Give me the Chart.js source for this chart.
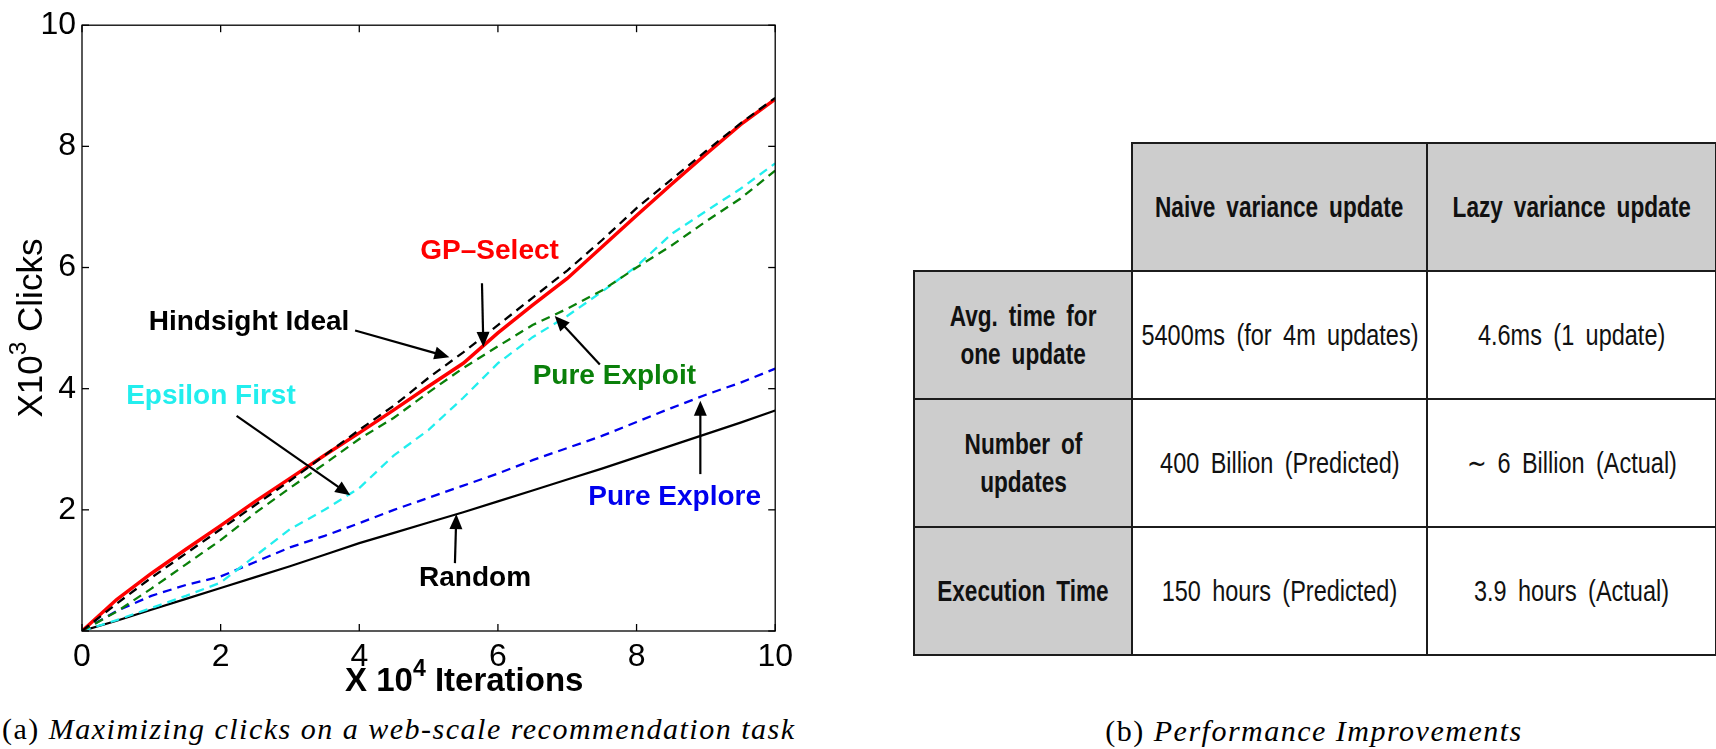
<!DOCTYPE html>
<html>
<head>
<meta charset="utf-8">
<script src="https://cdn.jsdelivr.net/npm/chart.js@4.4.1/dist/chart.umd.min.js"></script>
<style>
  html, body { margin: 0; padding: 0; background: #fff; }
  body { width: 1716px; height: 749px; position: relative; overflow: hidden; }
  #chart-box { position: absolute; left: 0; top: 0; width: 800px; height: 700px; }
  #perf {
    position: absolute; left: 913px; top: 142px; width: 802px;
    border-collapse: collapse; table-layout: fixed;
    font-family: "Liberation Sans", Arial, sans-serif;
    font-size: 29px; word-spacing: 6px; color: #111;
  }
  #perf td, #perf th {
    border: 2px solid #1c1c1c; text-align: center; vertical-align: middle; padding: 0;
    overflow: visible;
  }
  #perf th { background: #cdcdcd; font-weight: bold; }
  #perf td.corner { border: none; background: #fff; }
  #perf .c { width: 100%; min-width: 0; height: 126px; display: flex; justify-content: center; align-items: center; }
  #perf .sq { flex: none; white-space: nowrap; line-height: 38px; transform: scaleX(0.81); }
  #perf th .sq { transform: scaleX(0.78); }
  .cap {
    position: absolute; font-family: "Liberation Serif", serif; font-size: 30px;
    letter-spacing: 1.5px; line-height: 36px; color: #000; white-space: nowrap;
  }
</style>
</head>
<body>
<div id="chart-box"><canvas id="chart" width="800" height="700"></canvas></div>
<table id="perf">
  <colgroup><col style="width:218px"><col style="width:295px"><col style="width:289px"></colgroup>
  <tbody id="perf-body"></tbody>
</table>
<div class="cap" style="left:2px; top:711px;">(a) <i>Maximizing clicks on a web-scale recommendation task</i></div>
<div class="cap" style="left:914px; width:800px; text-align:center; top:713px;">(b) <i>Performance Improvements</i></div>
<script>
// iterations in units of 10^4, clicks in units of 10^3
const iterations = [0, 0.5, 1, 1.5, 2, 2.5, 3, 3.5, 4, 4.5, 5, 5.5, 6, 6.5, 7, 7.5, 8, 8.5, 9, 9.5, 10];
const gpSelect     = [0, 0.52, 0.95, 1.35, 1.74, 2.14, 2.52, 2.9, 3.27, 3.65, 4.04, 4.42, 4.92, 5.38, 5.82, 6.34, 6.86, 7.37, 7.87, 8.36, 8.78];
const hindsight    = [0, 0.45, 0.88, 1.28, 1.68, 2.08, 2.48, 2.9, 3.32, 3.72, 4.18, 4.6, 5.05, 5.5, 5.95, 6.45, 6.98, 7.45, 7.92, 8.38, 8.8];
const pureExploit  = [0, 0.32, 0.7, 1.1, 1.5, 1.95, 2.36, 2.76, 3.17, 3.52, 3.94, 4.34, 4.7, 5.05, 5.32, 5.62, 6.0, 6.36, 6.76, 7.14, 7.6];
const epsilonFirst = [0, 0.18, 0.38, 0.58, 0.8, 1.24, 1.68, 2.0, 2.36, 2.9, 3.32, 3.85, 4.42, 4.85, 5.2, 5.6, 6.02, 6.55, 6.93, 7.3, 7.72];
const pureExplore  = [0, 0.33, 0.58, 0.76, 0.9, 1.14, 1.38, 1.57, 1.78, 2.0, 2.2, 2.4, 2.6, 2.82, 3.02, 3.22, 3.45, 3.68, 3.9, 4.1, 4.33];
const randomPick   = [0, 0.17, 0.35, 0.53, 0.71, 0.89, 1.07, 1.26, 1.45, 1.62, 1.79, 1.96, 2.14, 2.32, 2.5, 2.68, 2.87, 3.06, 3.25, 3.44, 3.64];
const xTicks = [0, 2, 4, 6, 8, 10];
const yTicks = [0, 2, 4, 6, 8, 10];

// text labels with arrows, in data coordinates
const notes = [
  { text: 'Hindsight Ideal', color: '#000', at: [2.41, 5.10], from: [3.94, 4.96], to: [5.30, 4.52] },
  { text: 'GP\u2013Select', color: '#ff0000', at: [5.88, 6.26], from: [5.77, 5.74], to: [5.79, 4.69] },
  { text: 'Pure Exploit', color: '#0a800a', at: [7.68, 4.20], from: [7.47, 4.40], to: [6.82, 5.20] },
  { text: 'Epsilon First', color: '#22eeee', at: [1.86, 3.87], from: [2.23, 3.55], to: [3.87, 2.24] },
  { text: 'Pure Explore', color: '#0000ee', at: [8.55, 2.21], from: [8.92, 2.59], to: [8.92, 3.80] },
  { text: 'Random', color: '#000', at: [5.67, 0.87], from: [5.38, 1.12], to: [5.40, 1.93] }
];

// table content
const tableCols = ['Naive variance update', 'Lazy variance update'];
const tableRows = ['Avg. time for<br>one update', 'Number of<br>updates', 'Execution Time'];
const naiveCells = ['5400ms (for 4m updates)', '400 Billion (Predicted)', '150 hours (Predicted)'];
const lazyCells = ['4.6ms (1 update)', '\u223C 6 Billion (Actual)', '3.9 hours (Actual)'];

const cell = (tag, txt) => '<' + tag + '><div class="c"><span class="sq">' + txt + '</span></div></' + tag + '>';
let html = '<tr><td class="corner"></td>' + tableCols.map(c => cell('th', c)).join('') + '</tr>';
tableRows.forEach((r, i) => {
  html += '<tr>' + cell('th', r) + cell('td', naiveCells[i]) + cell('td', lazyCells[i]) + '</tr>';
});
document.getElementById('perf-body').innerHTML = html;

const pts = (ys) => ys.map((v, i) => ({ x: iterations[i], y: v }));

const line = (ctx, x1, y1, x2, y2) => {
  ctx.beginPath(); ctx.moveTo(x1, y1); ctx.lineTo(x2, y2); ctx.stroke();
};

// text with a superscript part
const fontOf = (p, size, weight) => weight + ' ' + (p.sup ? size * 0.7 : size) + 'px "Liberation Sans", Arial, sans-serif';
const partsWidth = (ctx, parts, size, weight) => {
  let w = 0;
  parts.forEach(p => { ctx.font = fontOf(p, size, weight); w += ctx.measureText(p.t).width; });
  return w;
};
const drawParts = (ctx, parts, size, weight, x0, y0) => {
  let x = x0;
  parts.forEach(p => {
    ctx.font = fontOf(p, size, weight);
    ctx.fillText(p.t, x, p.sup ? y0 - size * 0.45 : y0);
    x += ctx.measureText(p.t).width;
  });
};

const decorations = {
  id: 'decorations',
  afterDatasetsDraw(chart) {
    const { ctx, chartArea: a, scales: { x, y } } = chart;
    ctx.save();
    ctx.strokeStyle = '#000';
    ctx.lineWidth = 1.3;
    ctx.strokeRect(a.left, a.top, a.right - a.left, a.bottom - a.top);
    xTicks.forEach(v => {
      const px = x.getPixelForValue(v);
      line(ctx, px, a.bottom, px, a.bottom - 7);
      line(ctx, px, a.top, px, a.top + 7);
    });
    yTicks.forEach(v => {
      const py = y.getPixelForValue(v);
      line(ctx, a.left, py, a.left + 7, py);
      line(ctx, a.right, py, a.right - 7, py);
    });

    // annotations
    notes.forEach(n => {
      ctx.fillStyle = n.color;
      ctx.font = 'bold 28px "Liberation Sans", Arial, sans-serif';
      ctx.textAlign = 'center';
      ctx.textBaseline = 'middle';
      ctx.fillText(n.text, x.getPixelForValue(n.at[0]), y.getPixelForValue(n.at[1]));

      const x1 = x.getPixelForValue(n.from[0]), y1 = y.getPixelForValue(n.from[1]);
      const x2 = x.getPixelForValue(n.to[0]), y2 = y.getPixelForValue(n.to[1]);
      const ang = Math.atan2(y2 - y1, x2 - x1);
      const hl = 15, hw = 6.5;
      ctx.strokeStyle = '#000';
      ctx.fillStyle = '#000';
      ctx.lineWidth = 2.2;
      line(ctx, x1, y1, x2 - Math.cos(ang) * hl * 0.8, y2 - Math.sin(ang) * hl * 0.8);
      ctx.beginPath();
      ctx.moveTo(x2, y2);
      ctx.lineTo(x2 - Math.cos(ang) * hl - Math.sin(ang) * hw, y2 - Math.sin(ang) * hl + Math.cos(ang) * hw);
      ctx.lineTo(x2 - Math.cos(ang) * hl + Math.sin(ang) * hw, y2 - Math.sin(ang) * hl - Math.cos(ang) * hw);
      ctx.closePath();
      ctx.fill();
    });

    // axis titles
    ctx.fillStyle = '#000';
    ctx.textAlign = 'left';
    ctx.textBaseline = 'alphabetic';
    const yParts = [{ t: 'X10' }, { t: '3', sup: true }, { t: ' Clicks' }];
    const yw = partsWidth(ctx, yParts, 35, 'normal');
    ctx.save();
    ctx.translate(42, (a.top + a.bottom) / 2);
    ctx.rotate(-Math.PI / 2);
    drawParts(ctx, yParts, 35, 'normal', -yw / 2, 0);
    ctx.restore();

    const xParts = [{ t: 'X 10' }, { t: '4', sup: true }, { t: ' Iterations' }];
    drawParts(ctx, xParts, 33, 'bold', 345, 691);
    ctx.restore();
  }
};

const mk = (label, ys, color, width, dash, order) => ({
  label, data: pts(ys), borderColor: color, backgroundColor: color,
  borderWidth: width, borderDash: dash, pointRadius: 0, tension: 0, order
});

const tickFont = { size: 32, family: '"Liberation Sans", Arial, sans-serif' };

const chart = new Chart(document.getElementById('chart'), {
  type: 'line',
  data: {
    datasets: [
      mk('Hindsight Ideal', hindsight, '#000000', 2.3, [9, 6], 0),
      mk('GP-Select', gpSelect, '#ff0000', 3.5, [], 1),
      mk('Pure Exploit', pureExploit, '#0a800a', 2.3, [9, 6], 2),
      mk('Epsilon First', epsilonFirst, '#22eeee', 2.3, [9, 6], 3),
      mk('Pure Explore', pureExplore, '#0000ee', 2.3, [9, 6], 4),
      mk('Random', randomPick, '#000000', 2.2, [], 5)
    ]
  },
  options: {
    responsive: false,
    animation: false,
    layout: { padding: { top: 12, right: 18, left: 0, bottom: 0 } },
    plugins: { legend: { display: false }, tooltip: { enabled: false } },
    scales: {
      x: {
        type: 'linear', min: 0, max: 10,
        afterBuildTicks: (axis) => { axis.ticks = xTicks.map(v => ({ value: v })); },
        ticks: { color: '#000', padding: 7, font: tickFont },
        grid: { display: false, drawTicks: false },
        border: { display: false },
        afterFit: (axis) => { axis.height = 69; }
      },
      y: {
        min: 0, max: 10,
        afterBuildTicks: (axis) => { axis.ticks = yTicks.map(v => ({ value: v })); },
        ticks: {
          color: '#000', padding: 6, font: tickFont,
          callback: (v) => v === 0 ? '' : v
        },
        grid: { display: false, drawTicks: false },
        border: { display: false },
        afterFit: (axis) => { axis.width = 82; }
      }
    }
  },
  plugins: [decorations]
});
</script>
</body>
</html>
